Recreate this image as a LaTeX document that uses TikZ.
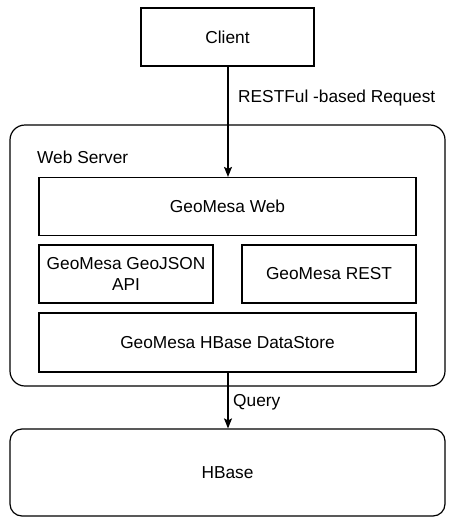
\documentclass[tikz,border=0pt]{standalone}
\usepackage{fontspec}
\setmainfont{Liberation Sans}
\usetikzlibrary{arrows.meta}
\begin{document}
\begin{tikzpicture}[x=1pt,y=-1pt,
  box/.style={draw,line width=1.2pt,inner sep=0pt,align=center,font=\fontsize{17.3}{21}\selectfont},
  lbl/.style={inner sep=0pt,font=\fontsize{17.3}{21}\selectfont},
  arr/.style={line width=1.2pt,-{Stealth[length=10pt,width=8pt,inset=2pt]}}]
\useasboundingbox[fill=white] (0,0) rectangle (452,525);
\node[box,rounded corners=15pt,minimum width=435pt,minimum height=261pt] (web) at (227.5,255.5) {};
\node[lbl,anchor=west] (wslbl) at (37,157) {Web Server};
\node[box,minimum width=173pt,minimum height=58pt] (client) at (227.5,37) {Client};
\node[box,minimum width=377pt,minimum height=58pt] (gmweb) at (227.5,206.5) {GeoMesa Web};
\node[box,minimum width=174pt,minimum height=58pt] (geojson) at (126,274) {GeoMesa GeoJSON\\API};
\node[box,minimum width=174pt,minimum height=58pt] (rest) at (329,274) {GeoMesa REST};
\node[box,minimum width=377pt,minimum height=59pt] (ds) at (227.5,342.5) {GeoMesa HBase DataStore};
\node[box,rounded corners=12pt,minimum width=435pt,minimum height=87pt] (hbase) at (227.5,472.5) {HBase};
\draw[arr] (client.south -| 228,0) -- (gmweb.north -| 228,0);
\draw[arr] (ds.south -| 228,0) -- (hbase.north -| 228,0);
\node[lbl,anchor=west] (reqlbl) at (238,98) {RESTFul -based Request};
\node[lbl,anchor=west] (qlbl) at (233,402) {Query};
\end{tikzpicture}
\end{document}
